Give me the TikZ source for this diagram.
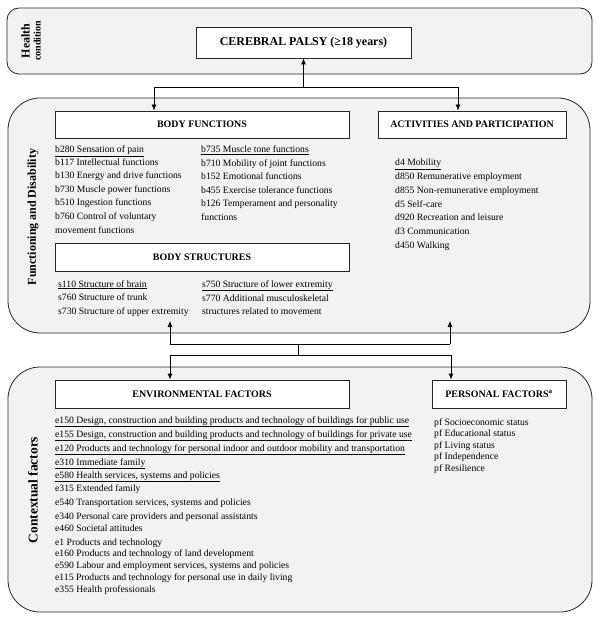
\documentclass[tikz,border=0pt]{standalone}
\usepackage{fontspec}
\setmainfont{Liberation Serif}
\usetikzlibrary{arrows.meta}
\begin{document}
\begin{tikzpicture}[x=1bp,y=-1bp,
  font=\fontsize{9.7}{11}\selectfont,
  outer/.style={draw=black!85, fill=black!5, line width=0.8bp, inner sep=0},
  hdr/.style={draw=black!85, fill=white, line width=0.8bp, inner sep=0,
    font=\fontsize{10}{12}\selectfont\bfseries},
  item/.style={anchor=base west, inner sep=0},
  sidelab/.style={rotate=90, inner sep=0, align=center},
  arr/.style={-{Latex[length=6bp,width=5bp]}, line width=0.8bp},
  ln/.style={line width=0.8bp}]
\useasboundingbox (0,0) rectangle (599,625);
% outer areas
\node[outer, rounded corners=12bp, minimum width=585bp, minimum height=66bp] (hc) at (299.5,41) {};
\node[outer, rounded corners=32bp, minimum width=582bp, minimum height=235bp] (fd) at (299,215.5) {};
\node[outer, rounded corners=32bp, minimum width=584bp, minimum height=245bp] (cf) at (300,489.5) {};
% side labels
\node[sidelab, font=\bfseries] (hclab) at (31,41) {{\fontsize{12}{12}\selectfont Health}\\[-1bp]{\fontsize{10}{10}\selectfont condition}};
\node[sidelab, font=\fontsize{12}{12}\selectfont\bfseries] (fdlab) at (33,217) {Functioning and Disability};
\node[sidelab, font=\fontsize{13.5}{14}\selectfont\bfseries] (cflab) at (33,490) {Contextual factors};
% header boxes
\node[hdr, font=\fontsize{12}{14}\selectfont\bfseries, minimum width=215bp, minimum height=31bp] (cp) at (303.5,42.5) {CEREBRAL PALSY (≥18 years)};
\node[hdr, minimum width=294bp, minimum height=27bp] (bf) at (202,124.5) {BODY FUNCTIONS};
\node[hdr, minimum width=188bp, minimum height=27bp] (ap) at (472,124.5) {ACTIVITIES AND PARTICIPATION};
\node[hdr, minimum width=294bp, minimum height=28bp] (bs) at (202,257) {BODY STRUCTURES};
\node[hdr, minimum width=294bp, minimum height=28bp] (ef) at (202,394) {ENVIRONMENTAL FACTORS};
\node[hdr, minimum width=134bp, minimum height=28bp] (pf) at (499,394) {PERSONAL FACTORS\textsuperscript{a}};
% body functions
\foreach \yy/\txt [count=\i] in {
  153/{\underline{b280 Sensation of pain}},
  166/{b117 Intellectual functions},
  179/{b130 Energy and drive functions},
  192/{b730 Muscle power functions},
  205/{b510 Ingestion functions},
  219/{b760 Control of voluntary},
  233/{movement functions}}
  \node[item] (bfa\i) at (55,\yy) {\txt};
\foreach \yy/\txt [count=\i] in {
  153/{\underline{b735 Muscle tone functions}},
  167/{b710 Mobility of joint functions},
  180/{b152 Emotional functions},
  193/{b455 Exercise tolerance functions},
  206/{b126 Temperament and personality},
  220/{functions}}
  \node[item] (bfb\i) at (201,\yy) {\txt};
% activities
\foreach \yy/\txt [count=\i] in {
  166/{\underline{d4 Mobility}},
  180/{d850 Remunerative employment},
  193/{d855 Non-remunerative employment},
  207/{d5 Self-care},
  220/{d920 Recreation and leisure},
  234/{d3 Communication},
  248/{d450 Walking}}
  \node[item] (apa\i) at (395,\yy) {\txt};
% body structures
\foreach \yy/\txt [count=\i] in {
  287/{\underline{s110 Structure of brain}},
  300/{s760 Structure of trunk},
  314/{s730 Structure of upper extremity}}
  \node[item] (bsa\i) at (58,\yy) {\txt};
\foreach \yy/\txt [count=\i] in {
  287/{\underline{s750 Structure of lower extremity}},
  301/{s770 Additional musculoskeletal},
  314/{structures related to movement}}
  \node[item] (bsb\i) at (202,\yy) {\txt};
% environmental factors
\foreach \yy/\txt [count=\i] in {
  423/{\underline{e150 Design, construction and building products and technology of buildings for public use}},
  437/{\underline{e155 Design, construction and building products and technology of buildings for private use}},
  451/{\underline{e120 Products and technology for personal indoor and outdoor mobility and transportation}},
  465/{\underline{e310 Immediate family}},
  478/{\underline{e580 Health services, systems and policies}},
  491/{e315 Extended family},
  505/{e540 Transportation services, systems and policies},
  519/{e340 Personal care providers and personal assistants},
  531/{e460 Societal attitudes},
  545/{e1 Products and technology},
  556/{e160 Products and technology of land development},
  568/{e590 Labour and employment services, systems and policies},
  580/{e115 Products and technology for personal use in daily living},
  592/{e355 Health professionals}}
  \node[item] (efa\i) at (55,\yy) {\txt};
% personal factors
\foreach \yy/\txt [count=\i] in {
  425/{pf Socioeconomic status},
  436/{pf Educational status},
  448/{pf Living status},
  459/{pf Independence},
  471/{pf Resilience}}
  \node[item] (pfa\i) at (434,\yy) {\txt};
% connectors top
\coordinate (jt) at (cp.south |- 0,87);
\coordinate (jl) at (154,87);
\coordinate (jr) at (458,87);
\draw[ln] (jl) -- (jr);
\draw[arr] (jt) -- (cp.south);
\draw[arr] (jl) -- (bf.north -| jl);
\draw[arr] (jr) -- (ap.north -| jr);
% connectors bottom
\coordinate (ul) at (170,344);
\coordinate (ur) at (450,344);
\coordinate (ult) at (170,321);
\coordinate (urt) at (450,321);
\coordinate (m1) at (298,344);
\coordinate (m2) at (298,355);
\coordinate (dl) at (170,355);
\coordinate (dr) at (451,355);
\draw[ln] (ul) -- (ur);
\draw[arr] (ul) -- (ult);
\draw[arr] (ur) -- (urt);
\draw[ln] (m1) -- (m2);
\draw[ln] (dl) -- (dr);
\draw[arr] (dl) -- (ef.north -| dl);
\draw[arr] (dr) -- (pf.north -| dr);
\end{tikzpicture}
\end{document}
